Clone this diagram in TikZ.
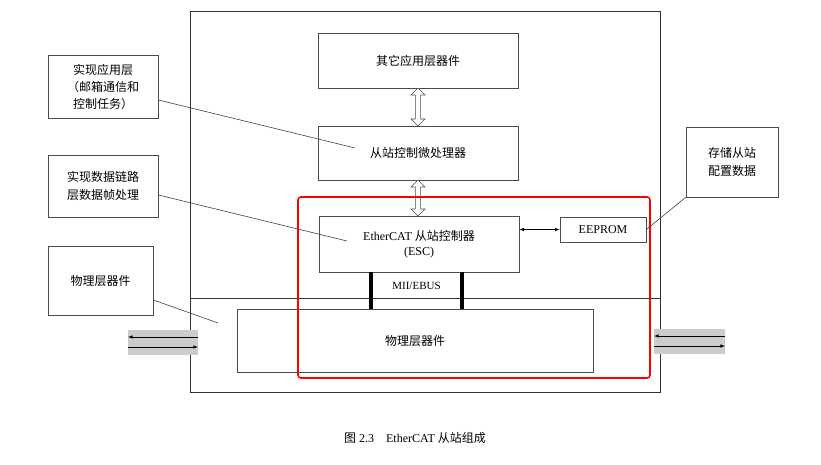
\documentclass[tikz,border=0pt]{standalone}
\usepackage{fontspec}
\setmainfont{Liberation Serif}
\newfontfamily\cjk{Noto Sans CJK SC}
\usetikzlibrary{shapes.arrows}
\begin{document}
\begin{tikzpicture}[x=1pt,y=-1pt,
  blk/.style={draw=black!70,line width=0.8pt,inner sep=0pt,font=\fontsize{12}{15}\selectfont},
  lead/.style={draw=black!75,line width=0.6pt},
  dbl/.style={draw=black!70,fill=white,double arrow,double arrow head extend=3pt,shape border rotate=90,minimum width=14pt,inner sep=1.5pt,line width=0.6pt},
  tip/.style={-latex}]
\useasboundingbox (0,0) rectangle (821,465);
\draw[line width=1pt,black!80] (190,12) rectangle (660,392);
\draw[line width=0.8pt,black!80] (190,298) -- (660,298);
\node[blk,minimum width=200pt,minimum height=55pt] (app) at (418,60.5) {\cjk 其它应用层器件};
\node[blk,minimum width=200pt,minimum height=54pt] (mcu) at (418,153) {\cjk 从站控制微处理器};
\node[blk,minimum width=200pt,minimum height=56pt,align=center] (esc) at (419,244) {EtherCAT {\cjk 从站控制器}\\({ESC})};
\node[blk,minimum width=86pt,minimum height=25pt] (eep) at (603,229.5) {EEPROM};
\node[blk,minimum width=356pt,minimum height=63pt] (phy) at (415,340.5) {\cjk 物理层器件};
\node[dbl,minimum height=38pt] (a1) at (418,107) {};
\node[dbl,minimum height=36pt] (a2) at (418,198) {};
\draw[line width=4pt] (371,272) -- (371,309);
\draw[line width=4pt] (462,272) -- (462,309);
\node[font=\fontsize{11}{13}\selectfont] (mii) at (416.5,286) {MII/EBUS};
\draw[latex-latex,line width=0.6pt] (esc.east|-eep) -- (eep.west);
\draw[red,line width=1.6pt,rounded corners=3pt] (298,197) rectangle (650,378);
\node[blk,minimum width=110pt,minimum height=63pt,align=center,font=\cjk\fontsize{12}{17}\selectfont] (l1) at (103,86.5) {实现应用层\\（邮箱通信和\\控制任务）};
\node[blk,minimum width=110pt,minimum height=62pt,align=center,font=\cjk\fontsize{12}{18}\selectfont] (l2) at (103,186) {实现数据链路\\层数据帧处理};
\node[blk,minimum width=105pt,minimum height=69pt,font=\cjk\fontsize{12}{15}\selectfont] (l3) at (100.5,280.5) {物理层器件};
\node[blk,minimum width=92pt,minimum height=70pt,align=center,font=\cjk\fontsize{12}{18}\selectfont] (r1) at (732,162) {存储从站\\配置数据};
\coordinate (e1) at (355,148);
\coordinate (e2) at (347,241);
\coordinate (e3) at (218,323);
\draw[lead] (l1.east|-0,100) -- (e1);
\draw[lead] (l2.east|-0,195) -- (e2);
\draw[lead] (l3.east|-0,300) -- (e3);
\draw[lead] (eep.east) -- (r1.south west);
\fill[black!20] (128,330) rectangle (198,355);
\fill[black!20] (654,329) rectangle (725,354);
\coordinate (la) at (198,337); \coordinate (lb) at (128,337);
\coordinate (lc) at (128,347); \coordinate (ld) at (198,347);
\draw[tip,line width=0.6pt] (la) -- (lb);
\draw[tip,line width=0.6pt] (lc) -- (ld);
\coordinate (ra) at (725,336); \coordinate (rb) at (654,336);
\coordinate (rc) at (654,346); \coordinate (rd) at (725,346);
\draw[tip,line width=0.6pt] (ra) -- (rb);
\draw[tip,line width=0.6pt] (rc) -- (rd);
\node[font=\fontsize{12}{14}\selectfont] (cap) at (415,438) {{\cjk 图} 2.3\quad EtherCAT {\cjk 从站组成}};
\end{tikzpicture}
\end{document}
